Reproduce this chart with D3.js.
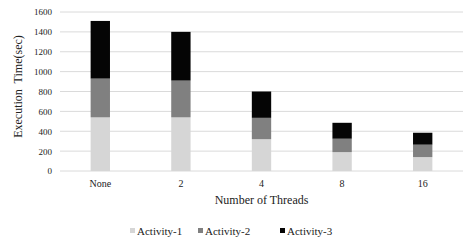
<!DOCTYPE html>
<html>
<head>
<meta charset="utf-8">
<script src="https://cdn.jsdelivr.net/npm/d3@7"></script>
<style>
  body { margin: 0; background: #fff; }
  text { font-family: "Liberation Serif", "DejaVu Serif", serif; fill: #222; }
</style>
</head>
<body>
<div id="chart"></div>
<script>
// data
var threads = ["None", "2", "4", "8", "16"];
var activity1 = [540, 540, 320, 190, 140];
var activity2 = [390, 370, 215, 135, 125];
var activity3 = [580, 490, 265, 160, 120];
var seriesNames = ["Activity-1", "Activity-2", "Activity-3"];
var yTicks = [0, 200, 400, 600, 800, 1000, 1200, 1400, 1600];

var colors = ["#d6d6d6", "#808080", "#050505"];

var W = 474, H = 246;
var margin = {top: 12, right: 12, bottom: 75, left: 60},
    width = 463 - margin.left,
    height = 171 - margin.top;

var svg = d3.select("#chart")
  .append("svg")
    .attr("width", W)
    .attr("height", H)
  .append("g")
    .attr("transform", "translate(" + margin.left + "," + margin.top + ")");

// build rows for stacking
var rows = threads.map(function(t, i) {
  return {t: t, "Activity-1": activity1[i], "Activity-2": activity2[i], "Activity-3": activity3[i]};
});
var stacked = d3.stack().keys(seriesNames)(rows);

var x = d3.scaleBand()
  .domain(threads)
  .range([0, width])
  .paddingInner(0.76)
  .paddingOuter(0.38);

var y = d3.scaleLinear()
  .domain([0, 1600])
  .range([height, 0]);

// gridlines
svg.append("g")
  .selectAll("line")
  .data(yTicks)
  .enter().append("line")
    .attr("x1", 0)
    .attr("x2", width)
    .attr("y1", function(d) { return y(d); })
    .attr("y2", function(d) { return y(d); })
    .attr("stroke", "#dadada")
    .attr("stroke-width", 1);

// y axis labels
var yAxis = svg.append("g")
  .call(d3.axisLeft(y).tickValues(yTicks).tickFormat(d3.format("d")).tickSize(0).tickPadding(8));
yAxis.select(".domain").remove();
yAxis.selectAll("text").attr("font-size", "9px");

// x axis labels
var xAxis = svg.append("g")
  .attr("transform", "translate(0," + height + ")")
  .call(d3.axisBottom(x).tickSize(0).tickPadding(9));
xAxis.select(".domain").remove();
xAxis.selectAll("text").attr("font-size", "10px");

// bars
svg.selectAll(".layer")
  .data(stacked)
  .enter().append("g")
    .attr("class", "layer")
    .attr("fill", function(d, i) { return colors[i]; })
  .selectAll("rect")
  .data(function(d) { return d; })
  .enter().append("rect")
    .attr("x", function(d) { return x(d.data.t); })
    .attr("y", function(d) { return y(d[1]); })
    .attr("height", function(d) { return y(d[0]) - y(d[1]); })
    .attr("width", x.bandwidth());

// axis titles
svg.append("text")
  .attr("transform", "rotate(-90)")
  .attr("x", -(height / 2) + 5)
  .attr("y", -38)
  .attr("text-anchor", "middle")
  .attr("font-size", "12px")
  .attr("xml:space", "preserve")
  .text("Execution  Time(sec)");

svg.append("text")
  .attr("x", width / 2)
  .attr("y", height + 33)
  .attr("text-anchor", "middle")
  .attr("font-size", "12px")
  .text("Number of Threads");

// legend
var legendX = [130, 198, 280];
var legend = svg.selectAll(".lineLegend").data(seriesNames)
  .enter().append("g")
  .attr("class", "lineLegend")
  .attr("transform", function(d, i) {
    return "translate(" + (legendX[i] - margin.left) + "," + (232 - margin.top) + ")";
  });
legend.append("rect")
  .attr("x", 0).attr("y", -4)
  .attr("width", 5).attr("height", 5)
  .attr("fill", function(d, i) { return colors[i]; });
legend.append("text")
  .attr("x", 7).attr("y", 3)
  .attr("font-size", "11px")
  .text(function(d) { return d; });
</script>
</body>
</html>
